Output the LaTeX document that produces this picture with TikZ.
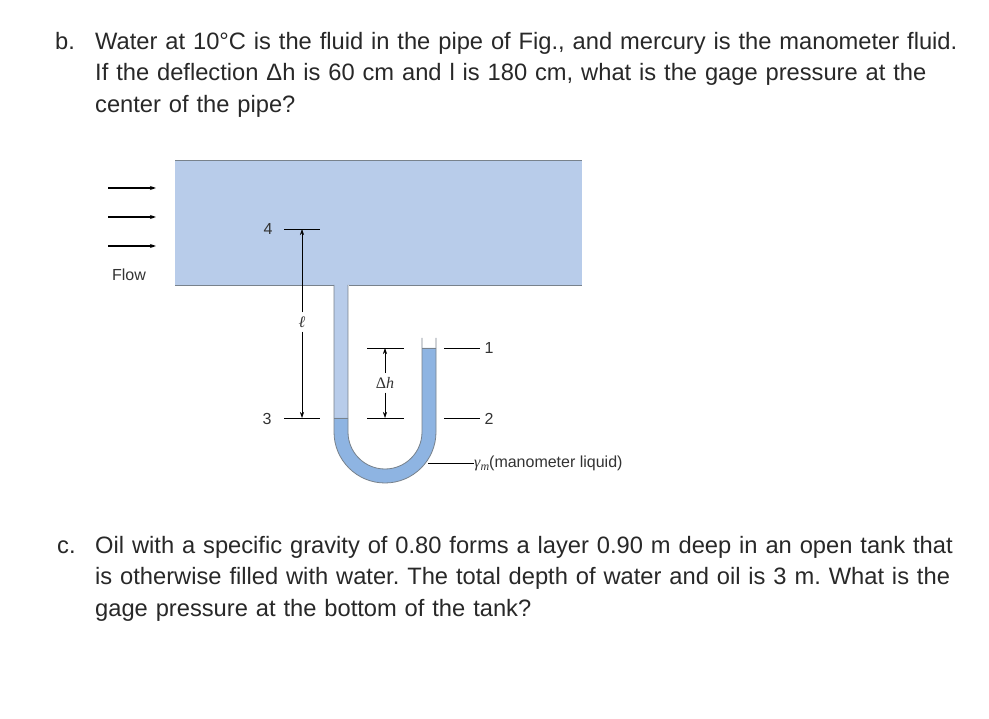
\documentclass[tikz,border=0pt]{standalone}
\usepackage{fontspec}
\setmainfont{Liberation Sans}
\newfontfamily\mfont{Liberation Serif}
\usetikzlibrary{arrows.meta}
\definecolor{water}{RGB}{184,204,234}
\definecolor{merc}{RGB}{142,180,226}
\definecolor{wall}{RGB}{120,130,140}
\definecolor{txt}{RGB}{40,40,40}
\tikzset{dim/.style={draw=black,line width=0.5pt},
  arr/.style={-{Stealth[length=6pt,width=4pt]},line width=0.6pt},
  lbl/.style={font=\fontsize{16}{16}\selectfont,text=black!80,inner sep=1pt},
  para/.style={font=\fontsize{23.7}{31.5}\selectfont\frenchspacing,text=txt,align=left,text width=890pt,anchor=north west,inner sep=0pt}}
\begin{document}
\begin{tikzpicture}[x=1pt,y=-1pt]
\useasboundingbox (0,0) rectangle (989,719);
\fill[white] (0,0) rectangle (989,719);
% texts
\node[para] (bt) at (95,32) {\llap{\makebox[40pt][l]{b.}}Water at 10°C is the fluid in the pipe of Fig., and mercury is the manometer fluid.\\If the deflection Δh is 60 cm and l is 180 cm, what is the gage pressure at the\\center of the pipe?};
\node[para] (ct) at (95,536) {\llap{\makebox[38pt][l]{c.}}Oil with a specific gravity of 0.80 forms a layer 0.90 m deep in an open tank that\\is otherwise filled with water. The total depth of water and oil is 3 m. What is the\\gage pressure at the bottom of the tank?};
% pipe
\fill[water] (175,160) rectangle (582,285);
\draw[wall,line width=0.8pt] (175,160) -- (582,160);
\draw[wall,line width=0.8pt] (175,285) -- (334,285);
\draw[wall,line width=0.8pt] (349,285) -- (582,285);
% tube water part
\fill[water] (334,285) rectangle (348,418);
% mercury U
\fill[merc] (334,418) -- (334,432) arc[start angle=180,end angle=0,radius=51] -- (436,348) -- (422,348) -- (422,432) arc[start angle=0,end angle=180,radius=37] -- (348,418) -- cycle;
\draw[wall,line width=0.8pt] (334,285) -- (334,432) arc[start angle=180,end angle=0,radius=51] -- (436,338);
\draw[wall,line width=0.8pt] (348,285) -- (348,432) arc[start angle=180,end angle=0,radius=37] -- (422,338);
\draw[wall,line width=0.6pt] (334,418) -- (348,418);
\draw[wall,line width=0.6pt] (422,348) -- (436,348);
% levels
\node[lbl] (n4) at (268,229) {4};
\draw[dim] (284,229) -- (320,229);
\node[lbl] (n3) at (267,419) {3};
\draw[dim] (284,418) -- (320,418);
\node[lbl,inner sep=4pt] (nl) at (302,322) {\mfont\itshape ℓ};
\draw[arr] (nl.north) -- (302,229);
\draw[arr] (nl.south) -- (302,418);
\draw[dim] (367,348) -- (404,348);
\draw[dim] (367,418) -- (404,418);
\node[lbl,inner sep=4pt] (dh) at (385,383) {\mfont Δ\itshape h};
\draw[arr] (dh.north) -- (385,348);
\draw[arr] (dh.south) -- (385,418);
\draw[dim] (444,348) -- (480,348);
\node[lbl] (n1) at (489,348) {1};
\draw[dim] (444,418) -- (480,418);
\node[lbl] (n2) at (489,419) {2};
\draw[dim] (428,463) -- (474,463);
\node[lbl,anchor=west,inner sep=0pt] (gm) at (474,463) {{\mfont\itshape γ\raisebox{-3pt}{\fontsize{12}{12}\selectfont m}}(manometer liquid)};
% flow
\foreach \yy in {188,217,246} \draw[arr,line width=1.2pt] (108,\yy) -- (156,\yy);
\node[lbl] (fl) at (129,275) {Flow};
\end{tikzpicture}
\end{document}
